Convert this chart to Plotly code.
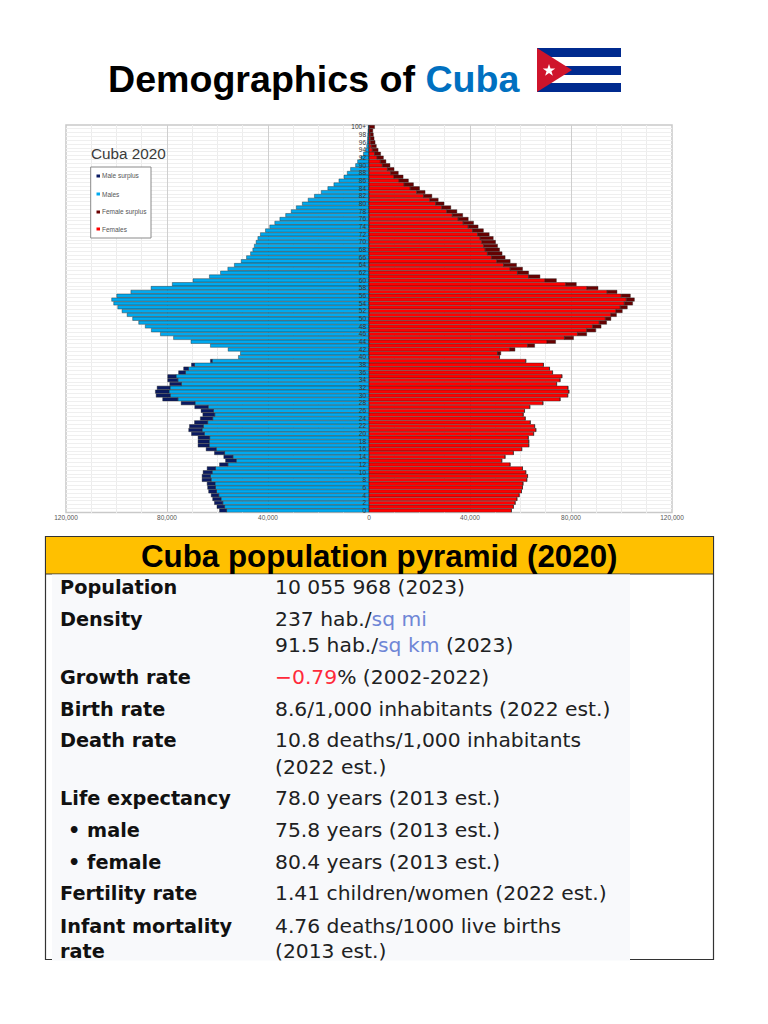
import math
import plotly.graph_objects as go

# Single-year ages, oldest first; the last bucket is open ended (100+).
ages = list(range(100, -1, -1))

# Population by single year of age, in thousands.
male_pop = [
    0.3, 0.4, 0.5, 0.6, 0.7, 0.9, 1.3, 2.2, 3.2, 4.5,
    5.3, 7.3, 8.6, 9.9, 11.9, 13.9, 16.3, 18.9, 21.6, 24.1,
    26.4, 28.8, 30.8, 33.0, 35.3, 37.3, 39.3, 41.0, 43.0, 44.0,
    44.7, 45.4, 46.0, 46.9, 48.5, 50.6, 53.3, 55.9, 58.8, 63.2,
    69.7, 77.9, 86.3, 94.3, 99.9, 101.9, 101.1, 99.5, 97.8, 95.8,
    93.6, 91.2, 88.6, 86.2, 82.6, 77.4, 70.5, 62.8, 55.8, 50.9,
    51.7, 62.8, 70.3, 73.4, 75.4, 79.7, 79.7, 78.9, 83.9, 84.6,
    84.3, 81.7, 74.4, 69.0, 66.5, 65.8, 66.8, 69.1, 71.1, 71.4,
    70.3, 67.7, 67.7, 67.7, 64.5, 61.2, 57.5, 56.8, 59.2, 64.1,
    65.7, 66.1, 66.1, 64.1, 63.9, 63.5, 62.5, 61.9, 61.2, 60.2,
    59.2,
]
female_pop = [
    2.2, 1.5, 1.7, 2.0, 2.4, 2.9, 3.6, 4.6, 5.7, 6.7,
    8.3, 9.9, 11.6, 13.5, 15.6, 17.6, 20.0, 22.2, 24.9, 27.4,
    29.7, 32.4, 34.8, 37.1, 39.3, 41.4, 43.2, 45.3, 47.6, 49.2,
    50.1, 50.9, 51.7, 52.7, 53.9, 55.9, 58.4, 60.8, 63.2, 67.7,
    74.2, 82.1, 90.7, 98.2, 103.5, 105.1, 104.4, 102.3, 100.3, 98.0,
    95.8, 94.1, 91.9, 89.8, 86.2, 81.0, 73.9, 65.6, 57.8, 52.2,
    51.7, 62.1, 69.1, 71.5, 72.7, 76.4, 75.7, 74.3, 78.8, 79.2,
    78.7, 75.7, 68.9, 63.7, 61.6, 61.1, 61.9, 63.9, 65.6, 66.1,
    65.2, 63.1, 63.3, 63.3, 60.5, 57.2, 53.9, 52.6, 55.9, 60.8,
    62.1, 62.8, 62.5, 61.0, 60.8, 60.4, 59.5, 58.6, 57.9, 57.2,
    56.4,
]

age_tick_values = list(range(100, -1, -2))
age_tick_labels = ["100+"] + [str(a) for a in range(98, -1, -2)]
pop_tick_values = [-120, -80, -40, 0, 40, 80, 120]
pop_tick_labels = ["120,000", "80,000", "40,000", "0", "40,000", "80,000", "120,000"]

legend_labels = ["Male surplus", "Males", "Female surplus", "Females"]
BLUE, NAVY, RED, MAROON = "#00aaf0", "#0a1a62", "#ff0000", "#6a0000"
legend_colors = [NAVY, BLUE, MAROON, RED]

fact_rows = [
    ("Population", 587, "10 055 968 (2023)"),
    ("Density", 619, '237 hab./<span style="color:#6f86d6">sq mi</span>'),
    ("", 645, '91.5 hab./<span style="color:#6f86d6">sq km</span> (2023)'),
    ("Growth rate", 677, '<span style="color:#ff2a3a">\u22120.79</span>% (2002-2022)'),
    ("Birth rate", 709, "8.6/1,000 inhabitants (2022 est.)"),
    ("Death rate", 740, "10.8 deaths/1,000 inhabitants"),
    ("", 767, "(2022 est.)"),
    ("Life expectancy", 798, "78.0 years (2013 est.)"),
    ("\u2022 male", 830, "75.8 years (2013 est.)"),
    ("\u2022 female", 862, "80.4 years (2013 est.)"),
    ("Fertility rate", 893, "1.41 children/women (2022 est.)"),
    ("Infant mortality", 926, "4.76 deaths/1000 live births"),
    ("rate", 951, "(2013 est.)"),
]

W, H = 768, 1024


def px(x):
    return x / W


def py(y):
    return 1 - y / H


def rect(x0, y0, x1, y1, fill=None, line=None, width=1, layer="above"):
    return dict(
        type="rect", xref="paper", yref="paper", layer=layer,
        x0=px(x0), x1=px(x1), y0=py(y0), y1=py(y1),
        fillcolor=fill if fill else "rgba(0,0,0,0)",
        line=dict(color=line if line else "rgba(0,0,0,0)", width=width if line else 0),
    )


def label(x, y, text, size, color="#202122", family="Liberation Sans", anchor="left"):
    return dict(
        xref="paper", yref="paper", x=px(x), y=py(y), text=text, showarrow=False,
        xanchor=anchor, yanchor="middle", align="left", borderpad=0, borderwidth=0,
        font=dict(family=family, size=size, color=color),
    )


# The overlap of both sexes is drawn in the bright colours, the excess in the dark ones.
shared = [min(m, f) for m, f in zip(male_pop, female_pop)]
male_surplus = [m - s for m, s in zip(male_pop, shared)]
female_surplus = [f - s for f, s in zip(female_pop, shared)]

fig = go.Figure()
outline = dict(color="#222222", width=0.4)
for name, values, sign, color in [
    ("Males", shared, -1, BLUE),
    ("Male surplus", male_surplus, -1, NAVY),
    ("Females", shared, 1, RED),
    ("Female surplus", female_surplus, 1, MAROON),
]:
    fig.add_bar(
        y=ages, x=[sign * v for v in values], name=name, orientation="h",
        marker=dict(color=color, line=outline),
    )

shapes = [
    # Pyramid frame
    rect(66, 125, 672, 512.5, line="#c9c9c9", width=1.5, layer="below"),
    # Table box, header band and pale panel
    rect(45.5, 536.5, 713.5, 959.5, fill="#ffffff", line="#333333", width=1.2),
    rect(46, 537, 713, 574, fill="#ffc000"),
    dict(type="line", xref="paper", yref="paper", x0=px(46), x1=px(713), y0=py(574), y1=py(574),
         line=dict(color="#333333", width=1)),
    rect(52, 574.5, 630, 960.5, fill="#f8f9fb"),
    # Flag stripes and triangle
    rect(537, 48, 621, 92, fill="#ffffff"),
    rect(537, 48, 621, 57, fill="#002a8f"),
    rect(537, 66, 621, 75, fill="#002a8f"),
    rect(537, 83, 621, 92, fill="#002a8f"),
    dict(type="path", xref="paper", yref="paper", layer="above",
         path=f"M{px(537)},{py(48)} L{px(572)},{py(70)} L{px(537)},{py(92)} Z",
         fillcolor="#cf142b", line=dict(width=0)),
    # Legend box
    rect(90.7, 167, 151, 238, fill="#ffffff", line="#8a8a8a", width=1),
]

# Five-pointed star on the flag
star_points = []
for i in range(10):
    r = 6.6 if i % 2 == 0 else 2.6
    a = -math.pi / 2 + i * math.pi / 5
    star_points.append((px(549 + r * math.cos(a)), py(70.5 + r * math.sin(a))))
star_path = "M" + " L".join(f"{x},{y}" for x, y in star_points) + " Z"
shapes.append(dict(type="path", xref="paper", yref="paper", layer="above", path=star_path,
                   fillcolor="#ffffff", line=dict(width=0)))

annotations = [
    label(108, 79, '<b>Demographics of <span style="color:#0070c0">Cuba</span></b>', 37.6, color="#000000"),
    label(379, 556, "<b>Cuba population pyramid (2020)</b>", 31.3, color="#000000", anchor="center"),
    label(91, 153, "Cuba 2020", 15.3, color="#3a3a3a"),
]

for row_y, name, color in zip([176, 194, 212, 229], legend_labels, legend_colors):
    shapes.append(rect(96.5, row_y - 1.5, 100, row_y + 1.5, fill=color))
    annotations.append(label(101.7, row_y, name, 6.5, color="#555555"))

for name, row_y, value in fact_rows:
    if name:
        left = 68 if name.startswith("\u2022") else 60
        annotations.append(label(left, row_y, f"<b>{name}</b>", 19.3, family="DejaVu Sans", color="#111111"))
    annotations.append(label(275, row_y, value, 20.3, family="DejaVu Sans"))

fig.update_layout(
    width=W, height=H, autosize=False,
    margin=dict(l=0, r=0, t=0, b=0),
    paper_bgcolor="#ffffff", plot_bgcolor="#ffffff",
    barmode="relative", bargap=0.12, showlegend=False,
    font=dict(family="Liberation Sans"),
    shapes=shapes, annotations=annotations,
    xaxis=dict(
        domain=[px(66), px(672)], range=[-120, 120], tickmode="array", automargin=False,
        tickvals=pop_tick_values, ticktext=pop_tick_labels,
        tickfont=dict(size=6.5, color="#555555"), ticks="", zeroline=False,
        showgrid=True, gridcolor="#cfcfcf", gridwidth=1.4,
        minor=dict(dtick=10, tick0=0, showgrid=True, gridcolor="#ececec", gridwidth=1),
    ),
    yaxis=dict(
        domain=[py(512.5), py(125)], range=[-0.5, 100.5], anchor="free", position=px(366),
        automargin=False, tickmode="array", tickvals=age_tick_values, ticktext=age_tick_labels,
        tickfont=dict(size=6.5, color="#333333"), ticks="", ticklen=0, layer="above traces",
        showgrid=False, zeroline=False, showline=False,
        minor=dict(dtick=1, tick0=0.5, showgrid=True, gridcolor="#efefef", gridwidth=1),
    ),
)

fig.write_html("out.html")
